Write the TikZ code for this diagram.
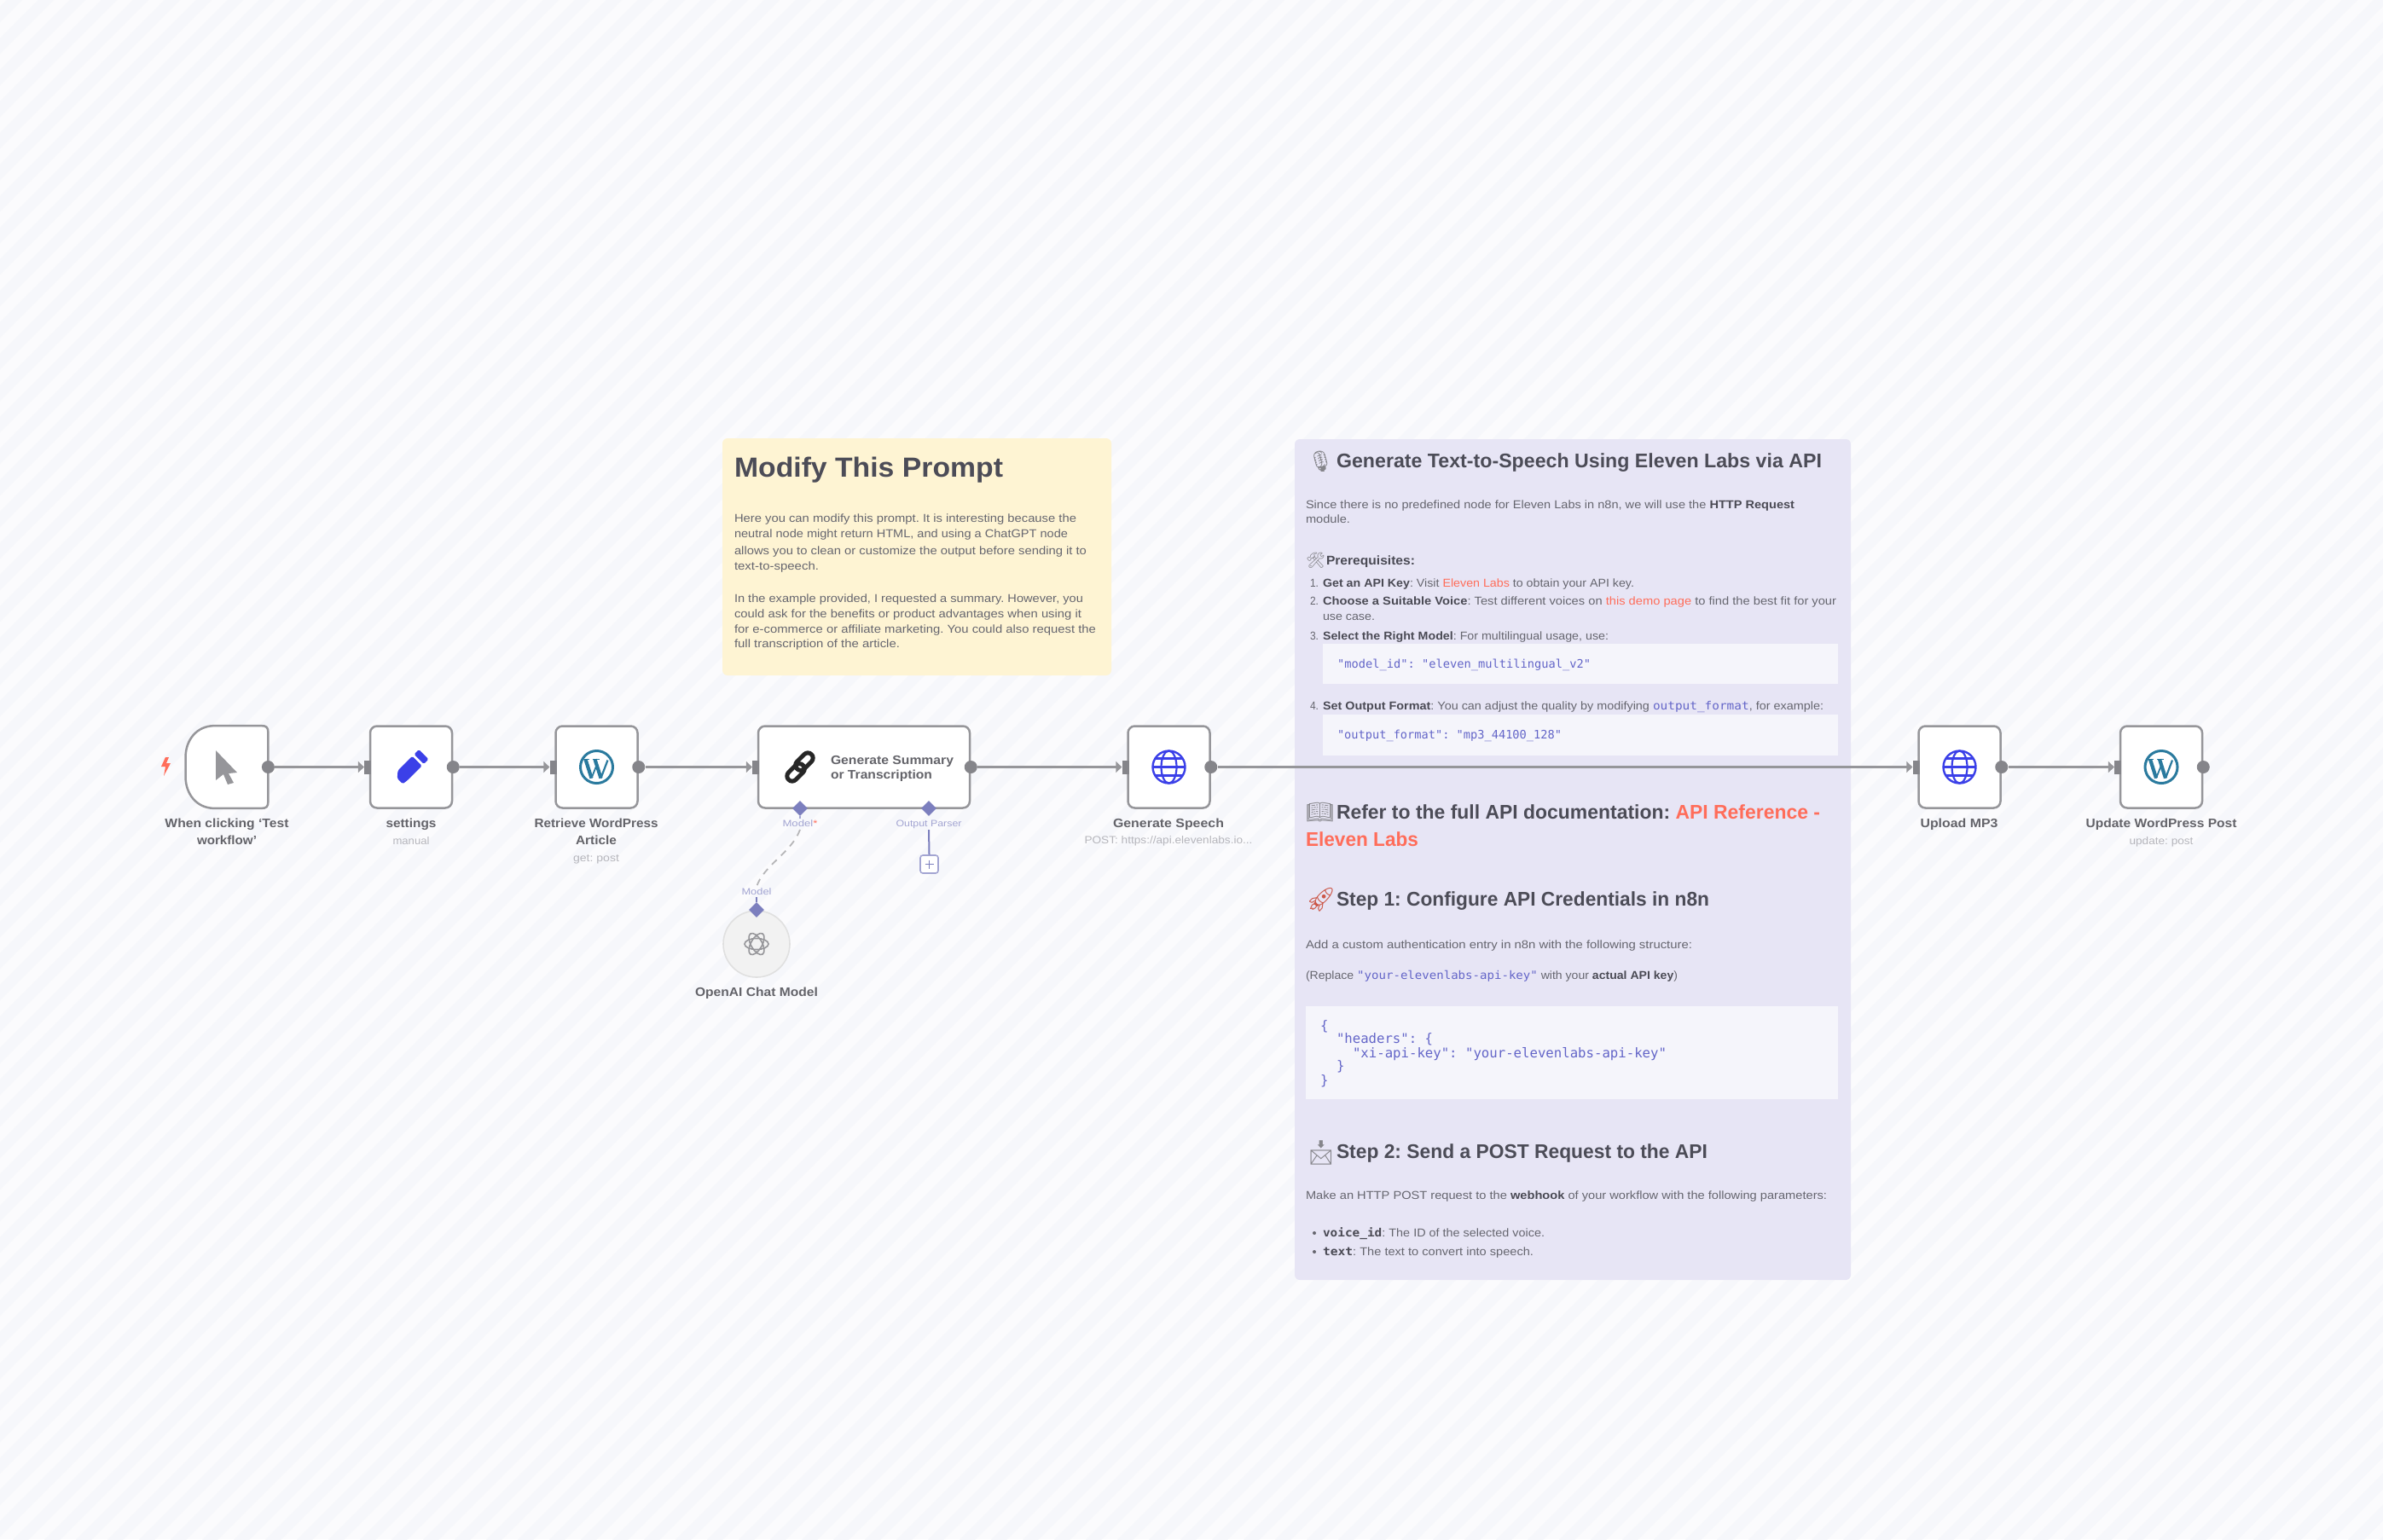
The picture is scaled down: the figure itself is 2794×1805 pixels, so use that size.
\documentclass[tikz,border=0pt]{standalone}
\usepackage{graphicx}
\usepackage{fontspec}
\setmainfont{Liberation Sans}
\setmonofont{DejaVu Sans Mono}
\newfontfamily\emojifont{Noto Emoji}
\usetikzlibrary{arrows.meta,shapes.geometric,calc}
\frenchspacing
\definecolor{bgbase}{HTML}{FBFBFD}
\definecolor{bgband}{HTML}{F6F7FB}
\definecolor{sticky}{HTML}{FEF4D3}
\definecolor{panel}{HTML}{E7E5F5}
\definecolor{codebox}{HTML}{F5F5FB}
\definecolor{codec}{HTML}{6365C8}
\definecolor{linkc}{HTML}{FF6D5A}
\definecolor{headc}{HTML}{4C4C57}
\definecolor{bodyc}{HTML}{66666F}
\definecolor{strongc}{HTML}{4A4A54}
\definecolor{labelc}{HTML}{636369}
\definecolor{subc}{HTML}{B6B6BC}
\definecolor{portc}{HTML}{A3A5D2}
\definecolor{lav}{HTML}{7C7FBE}
\definecolor{edge}{HTML}{96969A}
\definecolor{dotc}{HTML}{85858A}
\definecolor{blueicon}{HTML}{3B40E8}
\definecolor{wpc}{HTML}{2A7A9E}
\newlength{\pxu}\setlength{\pxu}{0.5pt}
\newcommand\sz[1]{\fontsize{#1}{#1}\selectfont}
\newcommand\fw[2]{\resizebox{#1\pxu}{\height}{#2}}
\newcommand\tl[5]{\node[txt,anchor=base west] (#1) at (#2,#3) {\fw{#4}{#5}};}
\newcommand\tc[5]{\node[txt,anchor=base] (#1) at (#2,#3) {\fw{#4}{#5}};}
\newcommand\bd[1]{{\bfseries\color{strongc}#1}}
\newcommand\lnk[1]{{\color{linkc}#1}}
\newcommand\cd[1]{{\ttfamily\color{codec}#1}}
\newcommand\lab{\sz{7.25}\bfseries\color{labelc}}
\newcommand\subl{\sz{6.2}\color{subc}}
\newcommand\portl{\sz{5.4}\color{portc}}
\newcommand\bodyt{\sz{6.7}\color{bodyc}}
\newcommand\head{\sz{11.6}\bfseries\color{headc}}
\newcommand\codet{\sz{6.85}\ttfamily\color{codec}}
\newcommand\codeb{\sz{7.85}\ttfamily\color{codec}}
\tikzset{
  x=0.5pt,y=-0.5pt,
  txt/.style={inner sep=0pt,outer sep=0pt},
  box/.style={draw=edge,line width=1.25pt,fill=white,rounded corners=4pt,minimum width=48pt,minimum height=48pt,inner sep=0pt},
  widebox/.style={box,minimum width=124pt},
  dot/.style={circle,fill=dotc,minimum size=7.5pt,inner sep=0pt},
  handle/.style={rectangle,fill=dotc,minimum width=4pt,minimum height=8pt,inner sep=0pt},
  conn/.style={draw=edge,line width=1.2pt,-{Triangle[length=3.5pt,width=6.5pt]}},
  portd/.style={diamond,fill=lav,minimum width=9pt,minimum height=9pt,inner sep=0pt,aspect=1},
  pics/wpicon/.style={code={
    \draw[wpc,line width=1.5pt] (0,0) circle [radius=19];
    \draw[wpc,line width=2.1pt] (-13,-9)--(-6,13);
    \draw[wpc,line width=0.9pt] (-6,13)--(0,-2);
    \draw[wpc,line width=2.1pt] (-2,-9)--(5,13);
    \draw[wpc,line width=1.1pt] (5,13)--(13,-8);
    \draw[wpc,line width=0.8pt] (-16,-9)--(-9,-9) (-5,-9)--(3,-9);
  }},
  pics/globeicon/.style={code={
    \draw[blueicon,line width=1.2pt] (0,0) circle [radius=19];
    \draw[blueicon,line width=1.1pt] (0,0) ellipse [x radius=9,y radius=19];
    \draw[blueicon,line width=1.1pt] (-19,0)--(19,0) (-16,-10)--(16,-10) (-16,10)--(16,10);
  }},
  pics/linkicon/.style={code={
    \begin{scope}[rotate=45]
      \draw[black!85,line width=2.5pt,rounded corners=3pt] (-20,-5) rectangle (4,7);
      \draw[black!85,line width=2.5pt,rounded corners=3pt] (-4,-7) rectangle (20,5);
    \end{scope}
  }},
  pics/pencilicon/.style={code={
    \begin{scope}[rotate=45]
      \fill[blueicon,rounded corners=0.8pt] (-21,7)--(-21,-2)--(-14,-8)--(10,-8)--(10,8)--(-14,8)--cycle;
      \fill[blueicon,rounded corners=0.8pt] (13,-8) rectangle (21,8);
    \end{scope}
  }},
  pics/openaiicon/.style={code={
    \foreach \a in {0,60,120}{
      \draw[edge,line width=0.8pt,rotate=\a] (0,0) ellipse [x radius=14,y radius=6.5];
    }
  }}
}
\begin{document}
\begin{tikzpicture}
\useasboundingbox (0,0) rectangle (2794,1805);
\fill[bgbase] (0,0) rectangle (2794,1805);
\begin{scope}
  \clip (0,0) rectangle (2794,1805);
  \foreach \k in {0,37,...,4640}{
    \draw[bgband,line width=6.5pt] (\k,-20) -- ({\k-1845},1825);
  }
\end{scope}

% sticky note
\fill[sticky,rounded corners=3pt] (847,514) rectangle (1303,792);
\tl{stTitle}{861}{559}{315}{\sz{16.2}\bfseries\color{headc}Modify This Prompt}
\tl{st1}{861}{612}{401}{\bodyt Here you can modify this prompt. It is interesting because the}
\tl{st2}{861}{630}{391}{\bodyt neutral node might return HTML, and using a ChatGPT node}
\tl{st3}{861}{650}{413}{\bodyt allows you to clean or customize the output before sending it to}
\tl{st4}{861}{668}{99}{\bodyt text-to-speech.}
\tl{st5}{861}{706}{409}{\bodyt In the example provided, I requested a summary. However, you}
\tl{st6}{861}{724}{407}{\bodyt could ask for the benefits or product advantages when using it}
\tl{st7}{861}{742}{424}{\bodyt for e-commerce or affiliate marketing. You could also request the}
\tl{st8}{861}{759}{194}{\bodyt full transcription of the article.}

% purple panel
\fill[panel,rounded corners=3pt] (1518,515) rectangle (2170,1501);
\node[txt,anchor=base west] (emMic) at (1533,549) {\sz{12}\emojifont\color{dotc}🎙};
\tl{pnTitle}{1567}{548}{569}{\head Generate Text-to-Speech Using Eleven Labs via API}
\tl{pn1}{1531}{596}{573}{\bodyt Since there is no predefined node for Eleven Labs in n8n, we will use the \bd{HTTP Request}}
\tl{pn2}{1531}{613}{52}{\bodyt module.}
\node[txt,anchor=base west] (emTools) at (1531,663) {\sz{9}\emojifont\color{dotc}🛠};
\tl{pnPre}{1555}{662}{104}{\sz{7.4}\bfseries\color{strongc}Prerequisites:}
\tl{n1}{1536}{688}{10}{\bodyt 1.}
\tl{li1}{1551}{688}{365}{\bodyt \bd{Get an API Key}: Visit \lnk{Eleven Labs} to obtain your API key.}
\tl{n2}{1536}{709}{10}{\bodyt 2.}
\tl{li2}{1551}{709}{602}{\bodyt \bd{Choose a Suitable Voice}: Test different voices on \lnk{this demo page} to find the best fit for your}
\tl{li2b}{1551}{727}{61}{\bodyt use case.}
\tl{n3}{1536}{750}{10}{\bodyt 3.}
\tl{li3}{1551}{750}{335}{\bodyt \bd{Select the Right Model}: For multilingual usage, use:}
\fill[codebox] (1551,755) rectangle (2155,802);
\tl{cd1}{1568}{783}{297}{\codet "model\_id": "eleven\_multilingual\_v2"}
\tl{n4}{1536}{832}{10}{\bodyt 4.}
\tl{li4}{1551}{832}{587}{\bodyt \bd{Set Output Format}: You can adjust the quality by modifying \cd{output\_format}, for example:}
\fill[codebox] (1551,838) rectangle (2155,886);
\tl{cd2}{1568}{866}{263}{\codet "output\_format": "mp3\_44100\_128"}

\node[txt,anchor=base west] (emBook) at (1531,961) {\sz{13}\emojifont\color{dotc}📖};
\tl{pnRef}{1567}{960}{567}{\head Refer to the full API documentation: {\color{linkc}API Reference -}}
\tl{pnRef2}{1531}{992}{132}{\head\color{linkc}Eleven Labs}
\node[txt,anchor=base west] (emRocket) at (1531,1064) {\sz{14}\emojifont\color{linkc!80!black}🚀};
\tl{pnS1}{1567}{1062}{437}{\head Step 1: Configure API Credentials in n8n}
\tl{pn3}{1531}{1112}{453}{\bodyt Add a custom authentication entry in n8n with the following structure:}
\tl{pn4}{1531}{1148}{436}{\bodyt (Replace \cd{"your-elevenlabs-api-key"} with your \bd{actual API key})}
\fill[codebox] (1531,1180) rectangle (2155,1289);
\tl{js1}{1548}{1208}{9.4}{\codeb \{}
\tl{js2}{1567}{1223}{113}{\codeb "headers": \{}
\tl{js3}{1586}{1240}{368}{\codeb "xi-api-key": "your-elevenlabs-api-key"}
\tl{js4}{1567}{1255}{9.4}{\codeb \}}
\tl{js5}{1548}{1272}{9.4}{\codeb \}}
\node[txt,anchor=base west] (emMail) at (1531,1361) {\sz{14}\emojifont\color{dotc}📩};
\tl{pnS2}{1567}{1358}{435}{\head Step 2: Send a POST Request to the API}
\tl{pn5}{1531}{1406}{611}{\bodyt Make an HTTP POST request to the \bd{webhook} of your workflow with the following parameters:}
\fill[bodyc] (1541,1446) circle [radius=2];
\tl{bl1}{1551}{1450}{260}{\bodyt {\ttfamily\bfseries\color{strongc}voice\_id}: The ID of the selected voice.}
\fill[bodyc] (1541,1468) circle [radius=2];
\tl{bl2}{1551}{1472}{247}{\bodyt {\ttfamily\bfseries\color{strongc}text}: The text to convert into speech.}

% nodes
\node[minimum width=48pt,minimum height=48pt,inner sep=0pt] (trig) at (266,899.5) {};
\draw[draw=edge,line width=1.25pt,fill=white]
  ($(trig.north east)+(-8,0)$) -- ($(trig.north west)+(34,0)$)
  .. controls ($(trig.north west)+(12,0)$) and ($(trig.north west)+(0,18)$) .. ($(trig.west)+(0,-12)$)
  -- ($(trig.west)+(0,12)$)
  .. controls ($(trig.south west)+(0,-18)$) and ($(trig.south west)+(12,0)$) .. ($(trig.south west)+(34,0)$)
  -- ($(trig.south east)+(-8,0)$)
  .. controls ($(trig.south east)+(-2,0)$) and ($(trig.south east)+(0,-2)$) .. ($(trig.south east)+(0,-8)$)
  -- ($(trig.north east)+(0,8)$)
  .. controls ($(trig.north east)+(0,2)$) and ($(trig.north east)+(-2,0)$) .. ($(trig.north east)+(-8,0)$) -- cycle;
\node[box] (sett) at (482,899.5) {};
\node[box] (wpget) at (699.5,899.5) {};
\node[widebox] (summ) at (1013,899.5) {};
\node[box] (speech) at (1370.5,899.5) {};
\node[box] (upload) at (2297.5,899.5) {};
\node[box] (wpupd) at (2534,899.5) {};

% icons
\fill[linkc] (194,888)--(189,899)--(194,899)--(192,910)--(200,895)--(195,895)--(198,888)--cycle;
\fill[edge] (253,880)--(278,906)--(268,907)--(274,918)--(267,920)--(262,908)--(253,915)--cycle;
\pic at (482,899.5) {pencilicon};
\pic at (699.5,899.5) {wpicon};
\pic at (938,899.5) {linkicon};
\pic at (1370.5,899.5) {globeicon};
\pic at (2297.5,899.5) {globeicon};
\pic at (2534,899.5) {wpicon};

% ports
\foreach \n in {trig,sett,wpget,summ,speech,upload,wpupd}{
  \node[dot] (d\n) at (\n.east) {};
}
\foreach \n in {sett,wpget,summ,speech,upload,wpupd}{
  \node[handle] (h\n) at ($(\n.west)+(-1.5,0)$) {};
}
\draw[conn] (dtrig) -- (hsett);
\draw[conn] (dsett) -- (hwpget);
\draw[conn] (dwpget) -- (hsumm);
\draw[conn] (dsumm) -- (hspeech);
\draw[conn] (dspeech) -- (hupload);
\draw[conn] (dupload) -- (hwpupd);

% summary text
\tl{sm1}{974}{896}{144}{\sz{7.25}\color{labelc}\bfseries Generate Summary}
\tl{sm2}{974}{913}{119}{\sz{7.25}\color{labelc}\bfseries or Transcription}

% labels
\tc{lb1}{266}{970}{145}{\lab When clicking ‘Test}
\tc{lb1b}{266}{990}{70}{\lab workflow’}
\tc{lb2}{482}{970}{59}{\lab settings}
\tc{lb2b}{482}{990}{43}{\subl manual}
\tc{lb3}{699}{970}{145}{\lab Retrieve WordPress}
\tc{lb3b}{699}{990}{48}{\lab Article}
\tc{lb3c}{699}{1010}{54}{\subl get: post}
\tc{lb4}{1370}{970}{130}{\lab Generate Speech}
\tc{lb4b}{1370}{989}{197}{\subl POST: https://api.elevenlabs.io...}
\tc{lb5}{2297}{970}{91}{\lab Upload MP3}
\tc{lb6}{2534}{970}{177}{\lab Update WordPress Post}
\tc{lb6b}{2534}{990}{75}{\subl update: post}

% AI sub-node
\node[circle,draw=black!12,line width=0.8pt,fill=black!5!white,minimum size=39pt,inner sep=0pt] (oai) at (887,1107) {};
\pic at (887,1107) {openaiicon};
\tc{lb7}{887}{1168}{144}{\lab OpenAI Chat Model}

\node[portd] (pModel) at (938,948) {};
\node[portd] (pParser) at (1089,948) {};
\node[portd] (pOai) at (887,1067) {};
\tc{plb1}{938}{969}{41}{\portl Model{\color{linkc}*}}
\tc{plb2}{1089}{969}{77}{\portl Output Parser}
\tc{plb3}{887}{1049}{35}{\portl Model}
\coordinate (mA) at (938,960);
\coordinate (mB) at (887,1052);
\coordinate (pA) at (1089,973);
\coordinate (dashA) at (938,973);
\coordinate (dashB) at (887,1040);
\draw[portc,line width=1pt] (pModel.south) -- (mA);
\draw[lav,line width=1pt] (mB) -- (pOai.north);
\draw[edge!70,line width=0.9pt,dash pattern=on 4pt off 3.5pt] (dashA) .. controls (928,1000) and (895,1015) .. (dashB);
\node[draw=portc,fill=white,line width=0.8pt,rounded corners=1.5pt,minimum width=10.5pt,minimum height=10.5pt,inner sep=0pt] (plus) at (1089.5,1013.5) {};
\coordinate (plusL) at (1084.5,1013.5);
\coordinate (plusR) at (1094.5,1013.5);
\coordinate (plusT) at (1089.5,1008.5);
\coordinate (plusB) at (1089.5,1018.5);
\draw[lav,line width=0.7pt] (plusL) -- (plusR) (plusT) -- (plusB);
\draw[lav,line width=1pt] (pA) -- (plus.north);
\end{tikzpicture}
\end{document}
